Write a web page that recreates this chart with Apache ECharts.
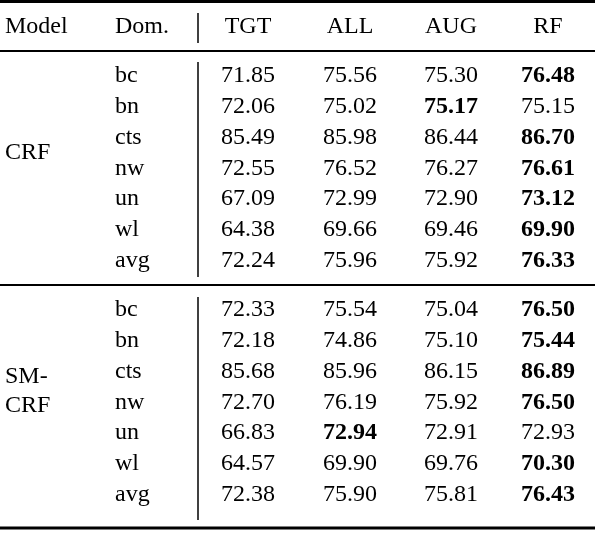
<!DOCTYPE html>
<html lang="en">
<head>
<meta charset="UTF-8">
<title>table</title>
<style>
  html, body { margin: 0; padding: 0; background: #fff; }
  #chart { width: 595px; height: 554px; }
</style>
</head>
<body>
<div id="chart"></div>
<script src="https://cdn.jsdelivr.net/npm/echarts@6/dist/echarts.min.js"></script>
<script>
const headers = ['Model', 'Dom.', 'TGT', 'ALL', 'AUG', 'RF']
const models = ['CRF', 'SM-\nCRF']
const domains = ['bc', 'bn', 'cts', 'nw', 'un', 'wl', 'avg']
const crfValues = [
  [71.85, 75.56, 75.30, 76.48],
  [72.06, 75.02, 75.17, 75.15],
  [85.49, 85.98, 86.44, 86.70],
  [72.55, 76.52, 76.27, 76.61],
  [67.09, 72.99, 72.90, 73.12],
  [64.38, 69.66, 69.46, 69.90],
  [72.24, 75.96, 75.92, 76.33]
]
const smcrfValues = [
  [72.33, 75.54, 75.04, 76.50],
  [72.18, 74.86, 75.10, 75.44],
  [85.68, 85.96, 86.15, 86.89],
  [72.70, 76.19, 75.92, 76.50],
  [66.83, 72.94, 72.91, 72.93],
  [64.57, 69.90, 69.76, 70.30],
  [72.38, 75.90, 75.81, 76.43]
]
// column index of bold value per row (0 = TGT)
const crfBold = [3, 2, 3, 3, 3, 3, 3]
const smcrfBold = [3, 3, 3, 3, 1, 3, 3]

// layout
const colX = [5, 115, 248, 350, 451, 548]
const colAlign = ['left', 'left', 'center', 'center', 'center', 'center']
const headerY = 27
const groupTop = [76, 310]
const rowStep = 30.8

const cells = []
headers.forEach((h, c) => cells.push([colX[c], headerY, h, 0, c]))
;[crfValues, smcrfValues].forEach((vals, g) => {
  const bold = g === 0 ? crfBold : smcrfBold
  const y0 = groupTop[g]
  cells.push([colX[0], y0 + rowStep * (g === 0 ? 2.5 : 2.65), models[g], 0, 0])
  domains.forEach((d, r) => {
    const y = y0 + r * rowStep
    cells.push([colX[1], y, d, 0, 1])
    vals[r].forEach((v, k) => {
      cells.push([colX[k + 2], y, v.toFixed(2), bold[r] === k ? 1 : 0, k + 2])
    })
  })
})

const chart = echarts.init(document.getElementById('chart'))
const W = 595
const line = (x1, y1, x2, y2, w) => ({
  type: 'line', shape: { x1, y1, x2, y2 }, style: { stroke: '#000', lineWidth: w }
})
chart.setOption({
  animation: false,
  grid: { left: 0, right: 0, top: 0, bottom: 0 },
  xAxis: { type: 'value', min: 0, max: 595, show: false },
  yAxis: { type: 'value', min: 0, max: 554, inverse: true, show: false },
  graphic: [
    line(0, 1.5, W, 1.5, 3),
    line(0, 51, W, 51, 2),
    line(0, 285, W, 285, 2),
    line(0, 528, W, 528, 3),
    line(198, 13, 198, 43, 1.5),
    line(198, 62, 198, 277, 1.5),
    line(198, 297, 198, 520, 1.5)
  ],
  series: [{
    type: 'custom',
    data: cells,
    renderItem: (params, api) => {
      const p = api.coord([api.value(0), api.value(1)])
      const cell = cells[params.dataIndex]
      return {
        type: 'text',
        x: p[0], y: p[1],
        style: {
          text: cell[2],
          fontFamily: '"Liberation Serif", "Times New Roman", serif',
          fontSize: 24,
          fontWeight: cell[3] ? 'bold' : 'normal',
          lineHeight: 29,
          fill: '#000',
          align: colAlign[cell[4]],
          verticalAlign: 'middle'
        }
      }
    }
  }]
})
</script>
</body>
</html>
